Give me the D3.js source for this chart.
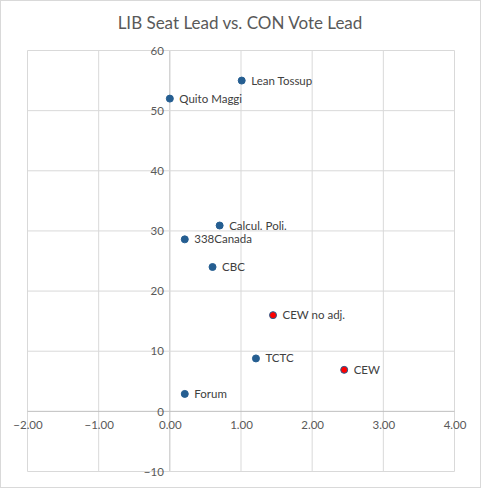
<!DOCTYPE html>
<html><head><meta charset="utf-8">
<script src="https://cdn.jsdelivr.net/npm/d3@7"></script>
<style>body{margin:0;background:#fff}svg{display:block}</style>
</head><body>
<svg id="c" width="481" height="488"></svg>
<script>
const labels = ["Lean Tossup","Quito Maggi","Calcul. Poli.","338Canada","CBC","CEW no adj.","TCTC","CEW","Forum"];
const xVals = [1.01, 0.00, 0.70, 0.21, 0.60, 1.45, 1.21, 2.45, 0.21];
const yVals = [55.0, 52.0, 30.9, 28.6, 24.0, 16.0, 8.8, 6.9, 2.9];
const highlight = [false,false,false,false,false,true,false,true,false];
const xTicks = [-2,-1,0,1,2,3,4];
const yTicks = [-10,0,10,20,30,40,50,60];
const title = "LIB Seat Lead vs. CON Vote Lead";

const svg = d3.select("#c");
const font = "Lato, 'Open Sans', sans-serif";
svg.append("rect").attr("x",0.5).attr("y",0.5).attr("width",480).attr("height",487)
  .attr("fill","#fff").attr("stroke","#d9d9d9");

const x = d3.scaleLinear().domain([-2,4]).range([27.5,454.5]);
const y = d3.scaleLinear().domain([-10,60]).range([471.5,50.5]);

// gridlines
svg.append("g").selectAll("line").data(xTicks).join("line")
  .attr("x1",d=>x(d)).attr("x2",d=>x(d)).attr("y1",y(60)).attr("y2",y(-10))
  .attr("stroke",d=>d===0?"#bfbfbf":"#d9d9d9").attr("stroke-width",1);
svg.append("g").selectAll("line").data(yTicks).join("line")
  .attr("x1",x(-2)).attr("x2",x(4)).attr("y1",d=>y(d)).attr("y2",d=>y(d))
  .attr("stroke",d=>d===0?"#bfbfbf":"#d9d9d9").attr("stroke-width",1);

// axes labels
const xAxis = d3.axisBottom(x).tickValues(xTicks).tickSize(0).tickPadding(9).tickFormat(d3.format(".2f"));
const gx = svg.append("g").attr("transform",`translate(0,${y(0)})`).call(xAxis);
gx.select(".domain").remove();
gx.selectAll("text").attr("fill","#595959").style("font-family",font).style("font-size","11.5px");

const yAxis = d3.axisLeft(y).tickValues(yTicks).tickSize(0).tickPadding(6).tickFormat(d3.format("d"));
const gy = svg.append("g").attr("transform",`translate(${x(0)},0)`).call(yAxis);
gy.select(".domain").remove();
gy.selectAll("text").attr("fill","#595959").style("font-family",font).style("font-size","11.5px");

// title
svg.append("text").attr("x",240).attr("y",29).attr("text-anchor","middle")
  .attr("fill","#595959").style("font-family",font).style("font-size","17px").text(title);

// points
const data = labels.map((l,i)=>({l, x:xVals[i], y:yVals[i], h:highlight[i]}));
svg.append("g").selectAll("circle").data(data).join("circle")
  .attr("cx",d=>x(d.x)).attr("cy",d=>y(d.y)).attr("r",3.5)
  .attr("fill",d=>d.h?"#ff0000":"#255e91").attr("stroke","#255e91").attr("stroke-width",1);
svg.append("g").selectAll("text").data(data).join("text")
  .attr("x",d=>x(d.x)+9.5).attr("y",d=>y(d.y)).attr("dy","0.35em")
  .attr("fill","#404040").style("font-family",font).style("font-size","11.5px").text(d=>d.l);
</script>
</body></html>
